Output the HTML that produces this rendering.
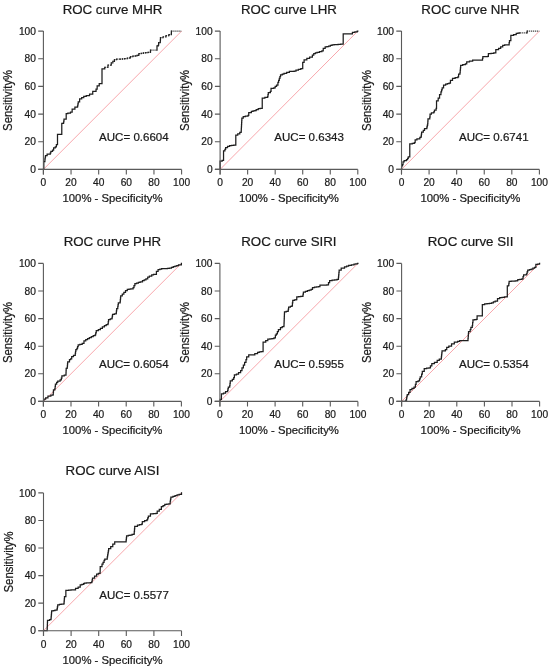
<!DOCTYPE html>
<html><head><meta charset="utf-8"><style>
html,body{margin:0;padding:0;background:#fff;width:550px;height:670px;overflow:hidden}
svg{display:block}
text{font-family:'Liberation Sans', Arial, sans-serif;fill:#1a1a1a;stroke:#1a1a1a;stroke-width:0.22px}
</style></head><body>
<svg width="550" height="670" viewBox="0 0 550 670">
<g><line x1="43.40" y1="169.40" x2="181.60" y2="31.10" stroke="#f79da3" stroke-width="0.9"/><path d="M43.40,169.40 L43.81,169.40 L43.81,161.66 L44.92,161.66 L44.92,158.89 L45.20,158.89 L45.20,157.23 L45.47,157.23 L45.47,155.57 L47.13,155.57 L47.13,154.05 L50.31,154.05 L50.31,152.94 L50.86,152.94 L50.86,151.28 L52.52,151.28 L52.52,150.18 L53.63,150.18 L53.63,147.96 L55.29,147.96 L55.29,146.86 L56.39,146.86 L56.39,144.64 L57.50,144.64 L57.50,144.23 L57.50,134.41 L60.12,134.41 L61.78,134.41 L61.78,133.86 L61.78,123.48 L63.44,123.48 L63.44,122.93 L63.72,122.93 L63.72,121.00 L63.99,121.00 L63.99,119.06 L66.20,119.06 L66.20,117.95 L66.20,113.67 L67.86,113.67 L67.86,113.11 L70.49,113.11 L70.49,112.01 L72.15,112.01 L72.15,109.24 L74.91,109.24 L74.91,107.16 L77.54,107.16 L77.54,105.78 L77.88,105.78 L77.88,103.78 L78.23,103.78 L78.23,101.77 L79.61,101.77 L79.61,98.87 L81.68,98.87 L81.68,97.62 L83.75,97.62 L83.75,96.38 L86.24,96.38 L86.24,95.55 L89.56,95.55 L89.56,94.03 L92.74,94.03 L92.74,91.26 L96.05,91.26 L96.05,89.05 L97.16,89.05 L97.16,85.87 L99.23,85.87 L99.23,83.65 L102.00,83.65 L102.00,81.44 L102.00,68.86 L104.76,68.86 L104.76,67.33 M107.94,67.33 L107.94,65.12 M111.26,65.12 L111.26,62.91 M112.85,62.91 L112.85,61.25 M114.43,61.25 L114.43,59.59 M116.65,59.59 L116.65,59.04 M119.96,59.04 L119.96,59.17 M122.31,59.17 L122.31,58.90 M124.66,58.90 L124.66,58.62 M127.29,58.62 L127.29,58.14 M129.91,58.14 L129.91,57.65 M130.47,57.65 L130.47,56.55 M132.82,56.55 L132.82,56.20 M135.16,56.20 L135.16,55.86 M136.89,55.86 L136.89,55.44 M138.62,55.44 L138.62,55.03 M138.90,55.03 L138.90,53.64 M141.11,53.64 L141.11,53.30 M143.32,53.30 L143.32,52.95 M145.62,52.95 L145.62,52.67 M147.93,52.67 L147.93,52.40 M150.23,52.40 L150.23,52.12 M150.50,52.12 L150.50,50.19 M157.00,50.19 L157.00,45.76 M158.38,45.76 L158.38,45.21 M158.66,45.21 L158.66,42.58 M160.18,42.58 L160.18,42.03 M160.32,42.03 L160.32,39.81 M160.46,39.81 L160.46,37.60 M163.08,37.60 L163.08,36.77 M165.98,36.77 L165.98,35.53 M168.89,35.53 L168.89,34.70 M171.23,34.70 L171.23,34.14 M171.37,34.14 L171.37,31.10" fill="none" stroke="#1e1e1e" stroke-width="1.25" stroke-linejoin="miter" stroke-linecap="square"/><path d="M104.76,67.33 H107.94 M107.94,65.12 H111.26 M111.26,62.91 H112.85 M112.85,61.25 H114.43 M114.43,59.59 H116.65 M116.65,59.04 H119.96 M119.96,59.17 H122.31 M122.31,58.90 H124.66 M124.66,58.62 H127.29 M127.29,58.14 H129.91 M129.91,57.65 H130.47 M130.47,56.55 H132.82 M132.82,56.20 H135.16 M135.16,55.86 H136.89 M136.89,55.44 H138.62 M138.62,55.03 H138.90 M138.90,53.64 H141.11 M141.11,53.30 H143.32 M143.32,52.95 H145.62 M145.62,52.67 H147.93 M147.93,52.40 H150.23 M150.23,52.12 H150.50 M150.50,50.19 H157.00 M157.00,45.76 H158.38 M158.38,45.21 H158.66 M158.66,42.58 H160.18 M160.18,42.03 H160.32 M160.32,39.81 H160.46 M160.46,37.60 H163.08 M163.08,36.77 H165.98 M165.98,35.53 H168.89 M168.89,34.70 H171.23 M171.23,34.14 H171.37 M171.37,31.10 H181.60" fill="none" stroke="#2a2a2a" stroke-width="1.2" stroke-dasharray="1.1 0.9"/><path d="M43.40,31.10 V174.60 M38.20,169.40 H181.60" fill="none" stroke="#5a5a5a" stroke-width="1.1"/><path d="M38.20,169.40 H43.40 M43.40,169.40 V174.60 M38.20,141.74 H43.40 M71.04,169.40 V174.60 M38.20,114.08 H43.40 M98.68,169.40 V174.60 M38.20,86.42 H43.40 M126.32,169.40 V174.60 M38.20,58.76 H43.40 M153.96,169.40 V174.60 M38.20,31.10 H43.40 M181.60,169.40 V174.60" fill="none" stroke="#5a5a5a" stroke-width="1.1"/><text x="35.90" y="173.00" text-anchor="end" font-size="10.2">0</text><text x="43.40" y="186.40" text-anchor="middle" font-size="10.2">0</text><text x="35.90" y="145.34" text-anchor="end" font-size="10.2">20</text><text x="71.04" y="186.40" text-anchor="middle" font-size="10.2">20</text><text x="35.90" y="117.68" text-anchor="end" font-size="10.2">40</text><text x="98.68" y="186.40" text-anchor="middle" font-size="10.2">40</text><text x="35.90" y="90.02" text-anchor="end" font-size="10.2">60</text><text x="126.32" y="186.40" text-anchor="middle" font-size="10.2">60</text><text x="35.90" y="62.36" text-anchor="end" font-size="10.2">80</text><text x="153.96" y="186.40" text-anchor="middle" font-size="10.2">80</text><text x="35.90" y="34.70" text-anchor="end" font-size="10.2">100</text><text x="181.60" y="186.40" text-anchor="middle" font-size="10.2">100</text><text x="112.50" y="13.60" text-anchor="middle" font-size="13.3">ROC curve MHR</text><text x="112.50" y="202.40" text-anchor="middle" font-size="10.8" textLength="100" lengthAdjust="spacingAndGlyphs">100% - Specificity%</text><text transform="translate(12.40,100.40) rotate(-90)" text-anchor="middle" font-size="12" textLength="61" lengthAdjust="spacingAndGlyphs">Sensitivity%</text><text x="99.10" y="140.50" font-size="11" textLength="69.6" lengthAdjust="spacingAndGlyphs">AUC= 0.6604</text></g>
<g><line x1="220.10" y1="169.40" x2="357.80" y2="31.10" stroke="#f79da3" stroke-width="0.9"/><path d="M220.10,169.40 L220.10,161.10 L222.17,161.10 L222.17,160.41 L223.54,160.41 L223.54,159.03 L223.54,150.87 L224.92,150.87 L224.92,149.48 L225.61,149.48 L225.61,147.55 L227.54,147.55 L227.54,146.44 L229.60,146.44 L229.60,145.61 L231.67,145.61 L231.67,145.40 L233.73,145.40 L233.73,145.20 L235.80,145.20 L235.80,144.78 L235.80,135.24 L237.73,135.24 L237.73,133.86 L239.79,133.86 L239.79,132.47 L241.17,132.47 L241.17,131.09 L241.28,131.09 L241.28,128.92 L241.40,128.92 L241.40,126.76 L241.51,126.76 L241.51,124.59 L241.63,124.59 L241.63,122.42 L241.74,122.42 L241.74,120.26 L241.86,120.26 L241.86,118.09 L243.23,118.09 L243.23,116.71 L245.30,116.71 L245.30,116.02 L248.05,116.02 L248.05,115.32 L248.74,115.32 L248.74,112.56 L251.36,112.56 L251.36,111.31 L253.08,111.31 L253.08,110.97 L254.80,110.97 L254.80,110.62 L256.18,110.62 L256.18,109.65 L258.24,109.65 L258.24,108.55 L260.24,108.55 L260.24,108.41 L262.24,108.41 L262.24,108.27 L262.24,98.04 L264.85,98.04 L264.85,97.35 L267.61,97.35 L267.61,96.65 L267.95,96.65 L267.95,94.65 L268.30,94.65 L268.30,92.64 L270.36,92.64 L270.36,91.26 L271.05,91.26 L271.05,88.49 L273.80,88.49 L273.80,87.80 L275.18,87.80 L275.18,86.42 L276.56,86.42 L276.56,85.04 L277.93,85.04 L277.93,82.27 L278.62,82.27 L278.62,80.27 L279.31,80.27 L279.31,78.26 L279.93,78.26 L279.93,76.53 L280.55,76.53 L280.55,74.80 L282.27,74.80 L282.27,74.11 L283.99,74.11 L283.99,73.42 L286.68,73.42 L286.68,72.45 L289.36,72.45 L289.36,71.48 L291.77,71.48 L291.77,71.35 L294.18,71.35 L294.18,71.21 L295.97,71.21 L295.97,70.10 L298.38,70.10 L298.38,69.41 L300.79,69.41 L300.79,68.72 L302.72,68.72 L302.72,67.33 L302.72,62.49 L304.10,62.49 L304.10,59.87 L306.85,59.87 L306.85,58.48 L309.61,58.48 L309.61,57.10 L312.36,57.10 L312.36,55.03 L313.74,55.03 L313.74,53.64 L315.39,53.64 L315.39,52.95 L317.04,52.95 L317.04,52.26 L319.45,52.26 L319.45,51.57 L321.86,51.57 L321.86,50.88 L323.24,50.88 L323.24,48.25 L325.17,48.25 L325.17,46.87 L326.89,46.87 L326.89,46.52 L328.61,46.52 L328.61,46.17 L330.33,46.17 L330.33,45.48 L332.05,45.48 L332.05,44.79 L334.07,44.79 L334.07,44.65 L336.09,44.65 L336.09,44.52 L338.11,44.52 L338.11,44.38 L340.66,44.38 L340.66,44.10 L343.20,44.10 L343.20,43.82 L343.20,33.87 L350.36,33.87 L352.43,33.87 L352.43,32.48 L354.84,32.48 L354.84,31.79 L357.25,31.79 L357.25,31.10 L357.80,31.10" fill="none" stroke="#1e1e1e" stroke-width="1.25" stroke-linejoin="miter" stroke-linecap="square"/><path d="M220.10,31.10 V174.60 M214.90,169.40 H357.80" fill="none" stroke="#5a5a5a" stroke-width="1.1"/><path d="M214.90,169.40 H220.10 M220.10,169.40 V174.60 M214.90,141.74 H220.10 M247.64,169.40 V174.60 M214.90,114.08 H220.10 M275.18,169.40 V174.60 M214.90,86.42 H220.10 M302.72,169.40 V174.60 M214.90,58.76 H220.10 M330.26,169.40 V174.60 M214.90,31.10 H220.10 M357.80,169.40 V174.60" fill="none" stroke="#5a5a5a" stroke-width="1.1"/><text x="212.60" y="173.00" text-anchor="end" font-size="10.2">0</text><text x="220.10" y="186.40" text-anchor="middle" font-size="10.2">0</text><text x="212.60" y="145.34" text-anchor="end" font-size="10.2">20</text><text x="247.64" y="186.40" text-anchor="middle" font-size="10.2">20</text><text x="212.60" y="117.68" text-anchor="end" font-size="10.2">40</text><text x="275.18" y="186.40" text-anchor="middle" font-size="10.2">40</text><text x="212.60" y="90.02" text-anchor="end" font-size="10.2">60</text><text x="302.72" y="186.40" text-anchor="middle" font-size="10.2">60</text><text x="212.60" y="62.36" text-anchor="end" font-size="10.2">80</text><text x="330.26" y="186.40" text-anchor="middle" font-size="10.2">80</text><text x="212.60" y="34.70" text-anchor="end" font-size="10.2">100</text><text x="357.80" y="186.40" text-anchor="middle" font-size="10.2">100</text><text x="288.95" y="13.60" text-anchor="middle" font-size="13.3">ROC curve LHR</text><text x="288.95" y="202.40" text-anchor="middle" font-size="10.8" textLength="100" lengthAdjust="spacingAndGlyphs">100% - Specificity%</text><text transform="translate(189.10,100.40) rotate(-90)" text-anchor="middle" font-size="12" textLength="61" lengthAdjust="spacingAndGlyphs">Sensitivity%</text><text x="274.30" y="140.50" font-size="11" textLength="69.6" lengthAdjust="spacingAndGlyphs">AUC= 0.6343</text></g>
<g><line x1="401.50" y1="169.40" x2="539.40" y2="31.10" stroke="#f79da3" stroke-width="0.9"/><path d="M401.50,169.40 L401.64,169.40 L401.64,165.94 L402.47,165.94 L402.47,164.70 L403.02,164.70 L403.02,161.79 L404.12,161.79 L404.12,160.69 L406.46,160.69 L406.46,159.72 L407.57,159.72 L407.57,158.34 L408.26,158.34 L408.26,156.95 L409.77,156.95 L409.77,156.26 L409.77,143.81 L412.26,143.81 L412.26,143.26 L414.32,143.26 L414.32,142.71 L415.15,142.71 L415.15,139.80 L416.94,139.80 L416.94,138.84 L419.84,138.84 L419.84,137.45 L421.08,137.45 L421.08,136.07 L421.36,136.07 L421.36,134.13 L421.63,134.13 L421.63,132.20 L423.29,132.20 L423.29,130.40 L424.53,130.40 L424.53,128.74 L426.87,128.74 L426.87,126.94 L427.29,126.94 L427.29,125.21 L427.70,125.21 L427.70,123.48 L427.84,123.48 L427.84,121.13 L427.98,121.13 L427.98,118.78 L429.77,118.78 L429.77,117.12 L430.05,117.12 L430.05,114.08 L431.42,114.08 L431.42,112.97 L433.77,112.97 L433.77,111.87 L434.46,111.87 L434.46,110.07 L436.11,110.07 L436.11,108.27 L436.53,108.27 L436.53,107.16 L436.53,100.94 L438.18,100.94 L438.18,98.04 L439.56,98.04 L439.56,94.72 L440.94,94.72 L440.94,91.95 L441.56,91.95 L441.56,89.88 L442.18,89.88 L442.18,87.80 L443.56,87.80 L443.56,85.04 L445.63,85.04 L445.63,84.07 L447.35,84.07 L447.35,83.58 L449.08,83.58 L449.08,83.10 L450.45,83.10 L450.45,80.33 L452.52,80.33 L452.52,78.26 L455.14,78.26 L455.14,77.57 L457.90,77.57 L457.90,76.88 L458.59,76.88 L458.59,74.11 L459.97,74.11 L459.97,72.73 L460.20,72.73 L460.20,70.24 L460.43,70.24 L460.43,67.75 L460.66,67.75 L460.66,65.26 L462.73,65.26 L462.73,64.57 L465.35,64.57 L465.35,63.88 L466.73,63.88 L466.73,61.80 L469.48,61.80 L469.48,61.11 L472.66,61.11 L472.66,60.14 L482.17,60.14 L482.52,60.14 L482.52,58.41 L482.86,58.41 L482.86,56.69 L485.27,56.69 L485.27,56.55 L487.69,56.55 L487.69,56.41 L488.38,56.41 L488.38,53.64 L491.07,53.64 L491.07,53.30 L493.76,53.30 L493.76,52.95 L495.82,52.95 L495.82,49.63 L498.58,49.63 L498.58,48.25 L500.65,48.25 L500.65,46.87 L502.72,46.87 L502.72,45.48 L504.65,45.48 L504.65,44.79 L508.79,44.79 L509.13,44.79 L509.13,42.72 L509.48,42.72 L509.48,40.64 L510.85,40.64 L510.85,38.57 L510.85,35.25 L513.61,35.25 L513.61,34.56 L516.23,34.56 L516.23,33.45 L517.96,33.45 L517.96,33.17 M519.68,33.17 L519.68,32.90 M527.13,32.90 L527.13,31.10" fill="none" stroke="#1e1e1e" stroke-width="1.25" stroke-linejoin="miter" stroke-linecap="square"/><path d="M517.96,33.17 H519.68 M519.68,32.90 H525.89 M525.89,32.90 H527.13 M527.13,31.10 H539.40" fill="none" stroke="#2a2a2a" stroke-width="1.2" stroke-dasharray="1.1 0.9"/><path d="M401.50,31.10 V174.60 M396.30,169.40 H539.40" fill="none" stroke="#5a5a5a" stroke-width="1.1"/><path d="M396.30,169.40 H401.50 M401.50,169.40 V174.60 M396.30,141.74 H401.50 M429.08,169.40 V174.60 M396.30,114.08 H401.50 M456.66,169.40 V174.60 M396.30,86.42 H401.50 M484.24,169.40 V174.60 M396.30,58.76 H401.50 M511.82,169.40 V174.60 M396.30,31.10 H401.50 M539.40,169.40 V174.60" fill="none" stroke="#5a5a5a" stroke-width="1.1"/><text x="394.00" y="173.00" text-anchor="end" font-size="10.2">0</text><text x="401.50" y="186.40" text-anchor="middle" font-size="10.2">0</text><text x="394.00" y="145.34" text-anchor="end" font-size="10.2">20</text><text x="429.08" y="186.40" text-anchor="middle" font-size="10.2">20</text><text x="394.00" y="117.68" text-anchor="end" font-size="10.2">40</text><text x="456.66" y="186.40" text-anchor="middle" font-size="10.2">40</text><text x="394.00" y="90.02" text-anchor="end" font-size="10.2">60</text><text x="484.24" y="186.40" text-anchor="middle" font-size="10.2">60</text><text x="394.00" y="62.36" text-anchor="end" font-size="10.2">80</text><text x="511.82" y="186.40" text-anchor="middle" font-size="10.2">80</text><text x="394.00" y="34.70" text-anchor="end" font-size="10.2">100</text><text x="539.40" y="186.40" text-anchor="middle" font-size="10.2">100</text><text x="470.45" y="13.60" text-anchor="middle" font-size="13.3">ROC curve NHR</text><text x="470.45" y="202.40" text-anchor="middle" font-size="10.8" textLength="100" lengthAdjust="spacingAndGlyphs">100% - Specificity%</text><text transform="translate(370.50,100.40) rotate(-90)" text-anchor="middle" font-size="12" textLength="61" lengthAdjust="spacingAndGlyphs">Sensitivity%</text><text x="459.00" y="140.50" font-size="11" textLength="69.6" lengthAdjust="spacingAndGlyphs">AUC= 0.6741</text></g>
<g><line x1="43.40" y1="401.40" x2="181.40" y2="263.40" stroke="#f79da3" stroke-width="0.9"/><path d="M43.40,401.40 L43.81,401.40 L43.81,399.05 L45.61,399.05 L45.61,397.95 L47.95,397.95 L47.95,396.16 L50.85,396.16 L50.85,395.05 L53.06,395.05 L53.06,394.50 L53.27,394.50 L53.27,392.15 L53.47,392.15 L53.47,389.81 L54.85,389.81 L54.85,388.57 L55.13,388.57 L55.13,386.29 L55.41,386.29 L55.41,384.01 L56.65,384.01 L56.65,382.49 L57.75,382.49 L57.75,381.11 L60.10,381.11 L60.10,379.87 L61.34,379.87 L61.34,378.08 L61.89,378.08 L61.89,375.87 L64.24,375.87 L64.24,375.18 L65.89,375.18 L65.89,375.04 L65.99,375.04 L65.99,372.79 L66.08,372.79 L66.08,370.53 L66.17,370.53 L66.17,368.28 L67.14,368.28 L67.14,367.73 L67.32,367.73 L67.32,365.75 L67.50,365.75 L67.50,363.77 L67.69,363.77 L67.69,361.79 L69.48,361.79 L69.48,359.59 L70.59,359.59 L70.59,358.90 L71.69,358.90 L71.69,356.55 L73.48,356.55 L73.48,355.45 L75.28,355.45 L75.28,353.10 L75.55,353.10 L75.55,351.38 L75.83,351.38 L75.83,349.65 L76.93,349.65 L76.93,348.41 L77.56,348.41 L77.56,346.68 L78.18,346.68 L78.18,344.96 L79.83,344.96 L79.83,344.41 L82.18,344.41 L82.18,343.30 L83.97,343.30 L83.97,340.96 L85.77,340.96 L85.77,339.71 L87.56,339.71 L87.56,338.68 L89.35,338.68 L89.35,337.64 L91.29,337.64 L91.29,336.68 L93.22,336.68 L93.22,335.71 L95.15,335.71 L95.15,334.75 L95.70,334.75 L95.70,332.75 L96.25,332.75 L96.25,330.74 L98.32,330.74 L98.32,329.57 L100.39,329.57 L100.39,328.40 L102.39,328.40 L102.39,326.95 L104.40,326.95 L104.40,325.50 L106.19,325.50 L106.19,324.60 L107.98,324.60 L107.98,323.71 L108.26,323.71 L108.26,321.70 L108.54,321.70 L108.54,319.70 L110.26,319.70 L110.26,318.81 L111.99,318.81 L111.99,317.91 L112.26,317.91 L112.26,316.18 L112.54,316.18 L112.54,314.46 L114.33,314.46 L114.33,313.84 L116.13,313.84 L116.13,313.22 L116.40,313.22 L116.40,310.94 L116.68,310.94 L116.68,308.66 L117.78,308.66 L117.78,306.32 L118.06,306.32 L118.06,304.59 L118.33,304.59 L118.33,302.87 L120.13,302.87 L120.13,301.63 L120.31,301.63 L120.31,299.69 L120.50,299.69 L120.50,297.76 L120.68,297.76 L120.68,295.83 L122.27,295.83 L122.27,294.10 L123.85,294.10 L123.85,292.38 L125.51,292.38 L125.51,290.59 L127.30,290.59 L127.30,289.48 L129.03,289.48 L129.03,289.14 L130.75,289.14 L130.75,288.79 L133.10,288.79 L133.10,287.69 L134.00,287.69 L134.00,285.62 L134.89,285.62 L134.89,283.55 L136.55,283.55 L136.55,283.00 L138.34,283.00 L138.34,282.44 L140.14,282.44 L140.14,281.89 L142.48,281.89 L142.48,280.65 L144.21,280.65 L144.21,279.82 L145.93,279.82 L145.93,278.99 L147.73,278.99 L147.73,277.20 L149.38,277.20 L149.38,276.10 L151.73,276.10 L151.73,274.85 L153.52,274.85 L153.52,274.30 L156.42,274.30 L156.42,271.40 L158.08,271.40 L158.08,269.61 L159.87,269.61 L159.87,269.13 L161.67,269.13 L161.67,268.64 L165.67,268.64 L167.46,268.64 L167.46,268.44 L169.26,268.44 L169.26,268.23 L171.46,268.23 L171.46,267.26 L173.26,267.26 L173.26,266.71 L175.05,266.71 L175.05,266.16 L176.78,266.16 L176.78,265.54 L178.50,265.54 L178.50,264.92 L181.40,264.92 L181.40,263.40" fill="none" stroke="#1e1e1e" stroke-width="1.25" stroke-linejoin="miter" stroke-linecap="square"/><path d="M43.40,263.40 V406.60 M38.20,401.40 H181.40" fill="none" stroke="#5a5a5a" stroke-width="1.1"/><path d="M38.20,401.40 H43.40 M43.40,401.40 V406.60 M38.20,373.80 H43.40 M71.00,401.40 V406.60 M38.20,346.20 H43.40 M98.60,401.40 V406.60 M38.20,318.60 H43.40 M126.20,401.40 V406.60 M38.20,291.00 H43.40 M153.80,401.40 V406.60 M38.20,263.40 H43.40 M181.40,401.40 V406.60" fill="none" stroke="#5a5a5a" stroke-width="1.1"/><text x="35.90" y="405.00" text-anchor="end" font-size="10.2">0</text><text x="43.40" y="418.40" text-anchor="middle" font-size="10.2">0</text><text x="35.90" y="377.40" text-anchor="end" font-size="10.2">20</text><text x="71.00" y="418.40" text-anchor="middle" font-size="10.2">20</text><text x="35.90" y="349.80" text-anchor="end" font-size="10.2">40</text><text x="98.60" y="418.40" text-anchor="middle" font-size="10.2">40</text><text x="35.90" y="322.20" text-anchor="end" font-size="10.2">60</text><text x="126.20" y="418.40" text-anchor="middle" font-size="10.2">60</text><text x="35.90" y="294.60" text-anchor="end" font-size="10.2">80</text><text x="153.80" y="418.40" text-anchor="middle" font-size="10.2">80</text><text x="35.90" y="267.00" text-anchor="end" font-size="10.2">100</text><text x="181.40" y="418.40" text-anchor="middle" font-size="10.2">100</text><text x="112.40" y="245.90" text-anchor="middle" font-size="13.3">ROC curve PHR</text><text x="112.40" y="434.40" text-anchor="middle" font-size="10.8" textLength="100" lengthAdjust="spacingAndGlyphs">100% - Specificity%</text><text transform="translate(12.40,332.55) rotate(-90)" text-anchor="middle" font-size="12" textLength="61" lengthAdjust="spacingAndGlyphs">Sensitivity%</text><text x="99.00" y="367.60" font-size="11" textLength="69.6" lengthAdjust="spacingAndGlyphs">AUC= 0.6054</text></g>
<g><line x1="219.90" y1="401.40" x2="357.90" y2="263.40" stroke="#f79da3" stroke-width="0.9"/><path d="M219.90,401.40 L220.18,401.40 L220.18,399.33 L221.42,399.33 L221.42,397.95 L221.42,393.81 L223.49,393.81 L223.49,393.12 L225.56,393.12 L225.56,391.74 L227.63,391.74 L227.63,390.36 L227.97,390.36 L227.97,388.70 L228.32,388.70 L228.32,387.05 L229.70,387.05 L229.70,385.67 L229.97,385.67 L229.97,383.25 L230.25,383.25 L230.25,380.84 L232.32,380.84 L232.32,379.46 L233.70,379.46 L233.70,377.53 L234.39,377.53 L234.39,374.77 L236.46,374.77 L236.46,374.08 L238.53,374.08 L238.53,372.70 L240.60,372.70 L240.60,370.63 L241.98,370.63 L241.98,367.87 L243.36,367.87 L243.36,365.24 L244.60,365.24 L244.60,362.48 L245.98,362.48 L245.98,359.72 L246.67,359.72 L246.67,356.96 L248.74,356.96 L248.74,354.89 L252.88,354.89 L254.81,354.89 L254.81,353.65 L257.57,353.65 L257.57,352.27 L259.30,352.27 L259.30,351.93 L261.02,351.93 L261.02,351.58 L263.09,351.58 L263.09,350.20 L263.09,342.06 L265.72,342.06 L265.72,340.68 L267.79,340.68 L267.79,339.02 L269.86,339.02 L269.86,338.82 L271.93,338.82 L271.93,338.61 L274.00,338.61 L274.00,337.92 L275.38,337.92 L275.38,335.16 L276.34,335.16 L276.34,333.78 L277.38,333.78 L277.38,331.64 L278.41,331.64 L278.41,329.50 L280.48,329.50 L280.48,327.57 L282.21,327.57 L282.21,326.53 L283.93,326.53 L283.93,325.50 L284.02,325.50 L284.02,323.22 L284.12,323.22 L284.12,320.95 L284.21,320.95 L284.21,318.67 L284.30,318.67 L284.30,316.39 L284.39,316.39 L284.39,314.11 L284.48,314.11 L284.48,311.84 L286.21,311.84 L286.21,311.49 L287.93,311.49 L287.93,311.15 L288.28,311.15 L288.28,309.08 L288.62,309.08 L288.62,307.01 L290.35,307.01 L290.35,306.32 L292.07,306.32 L292.07,305.63 L292.42,305.63 L292.42,302.94 L292.76,302.94 L292.76,300.25 L294.42,300.25 L294.42,299.90 L296.08,299.90 L296.08,299.56 L296.77,299.56 L296.77,296.80 L298.74,296.80 L298.74,296.57 L300.72,296.57 L300.72,296.34 L302.70,296.34 L302.70,296.11 L303.04,296.11 L303.04,294.10 L303.39,294.10 L303.39,292.10 L305.39,292.10 L305.39,291.41 L307.39,291.41 L307.39,290.72 L309.25,290.72 L309.25,290.03 L311.12,290.03 L311.12,289.34 L312.50,289.34 L312.50,287.55 L314.52,287.55 L314.52,287.23 L316.55,287.23 L316.55,286.91 L318.57,286.91 L318.57,286.58 L319.95,286.58 L319.95,285.20 L322.25,285.20 L322.25,285.11 L324.55,285.11 L324.55,285.02 L326.85,285.02 L326.85,284.93 L328.51,284.93 L328.51,282.72 L329.61,282.72 L329.61,280.51 L332.09,280.51 L332.09,280.14 L334.58,280.14 L334.58,279.78 L337.06,279.78 L337.06,279.41 L338.44,279.41 L338.44,277.06 L338.67,277.06 L338.67,274.76 L338.90,274.76 L338.90,272.46 L339.13,272.46 L339.13,270.16 L341.20,270.16 L341.20,268.23 L344.51,268.23 L344.51,266.85 L346.58,266.85 L346.58,266.16 L348.65,266.16 L348.65,265.47 L351.34,265.47 L351.34,264.78 L354.04,264.78 L354.04,264.09 L355.76,264.09 L355.76,263.75 L357.49,263.75 L357.49,263.40 L357.90,263.40" fill="none" stroke="#1e1e1e" stroke-width="1.25" stroke-linejoin="miter" stroke-linecap="square"/><path d="M219.90,263.40 V406.60 M214.70,401.40 H357.90" fill="none" stroke="#5a5a5a" stroke-width="1.1"/><path d="M214.70,401.40 H219.90 M219.90,401.40 V406.60 M214.70,373.80 H219.90 M247.50,401.40 V406.60 M214.70,346.20 H219.90 M275.10,401.40 V406.60 M214.70,318.60 H219.90 M302.70,401.40 V406.60 M214.70,291.00 H219.90 M330.30,401.40 V406.60 M214.70,263.40 H219.90 M357.90,401.40 V406.60" fill="none" stroke="#5a5a5a" stroke-width="1.1"/><text x="212.40" y="405.00" text-anchor="end" font-size="10.2">0</text><text x="219.90" y="418.40" text-anchor="middle" font-size="10.2">0</text><text x="212.40" y="377.40" text-anchor="end" font-size="10.2">20</text><text x="247.50" y="418.40" text-anchor="middle" font-size="10.2">20</text><text x="212.40" y="349.80" text-anchor="end" font-size="10.2">40</text><text x="275.10" y="418.40" text-anchor="middle" font-size="10.2">40</text><text x="212.40" y="322.20" text-anchor="end" font-size="10.2">60</text><text x="302.70" y="418.40" text-anchor="middle" font-size="10.2">60</text><text x="212.40" y="294.60" text-anchor="end" font-size="10.2">80</text><text x="330.30" y="418.40" text-anchor="middle" font-size="10.2">80</text><text x="212.40" y="267.00" text-anchor="end" font-size="10.2">100</text><text x="357.90" y="418.40" text-anchor="middle" font-size="10.2">100</text><text x="288.90" y="245.90" text-anchor="middle" font-size="13.3">ROC curve SIRI</text><text x="288.90" y="434.40" text-anchor="middle" font-size="10.8" textLength="100" lengthAdjust="spacingAndGlyphs">100% - Specificity%</text><text transform="translate(188.90,332.55) rotate(-90)" text-anchor="middle" font-size="12" textLength="61" lengthAdjust="spacingAndGlyphs">Sensitivity%</text><text x="274.30" y="367.50" font-size="11" textLength="69.6" lengthAdjust="spacingAndGlyphs">AUC= 0.5955</text></g>
<g><line x1="401.60" y1="401.40" x2="539.60" y2="263.40" stroke="#f79da3" stroke-width="0.9"/><path d="M401.60,401.40 L404.50,401.40 L405.88,401.40 L405.88,400.02 L406.57,400.02 L406.57,397.95 L406.91,397.95 L406.91,396.22 L407.26,396.22 L407.26,394.50 L408.64,394.50 L408.64,392.43 L410.02,392.43 L410.02,389.67 L411.95,389.67 L411.95,388.43 L414.02,388.43 L414.02,387.05 L415.40,387.05 L415.40,384.29 L416.09,384.29 L416.09,381.53 L418.16,381.53 L418.16,380.84 L419.54,380.84 L419.54,378.77 L420.23,378.77 L420.23,376.84 L421.61,376.84 L421.61,374.08 L422.30,374.08 L422.30,371.32 L424.23,371.32 L424.23,368.56 L426.65,368.56 L426.65,368.21 L429.06,368.21 L429.06,367.87 L430.44,367.87 L430.44,365.93 L431.82,365.93 L431.82,363.59 L434.44,363.59 L434.44,362.48 L437.20,362.48 L437.20,360.41 L439.27,360.41 L439.27,359.03 L441.34,359.03 L441.34,356.96 L441.57,356.96 L441.57,354.94 L441.80,354.94 L441.80,352.92 L442.03,352.92 L442.03,350.89 L445.35,350.89 L445.35,349.51 L446.73,349.51 L446.73,347.44 L448.80,347.44 L448.80,346.06 L451.56,346.06 L451.56,343.99 L454.32,343.99 L454.32,342.06 L457.63,342.06 L457.63,341.37 L459.70,341.37 L459.70,340.68 L467.84,340.68 L468.01,340.68 L468.01,338.44 L468.19,338.44 L468.19,336.19 L468.36,336.19 L468.36,333.95 L468.53,333.95 L468.53,331.71 L470.19,331.71 L470.19,329.50 L470.88,329.50 L470.88,327.43 L472.26,327.43 L472.26,325.50 L472.60,325.50 L472.60,322.74 L472.95,322.74 L472.95,319.98 L474.67,319.98 L474.67,319.63 L476.40,319.63 L476.40,319.29 L477.09,319.29 L477.09,315.98 L479.71,315.98 L479.71,315.77 L482.33,315.77 L482.33,315.56 L482.33,304.52 L484.68,304.52 L484.68,303.97 L487.02,303.97 L487.02,303.70 L489.37,303.70 L489.37,303.42 L491.58,303.42 L491.58,302.87 L493.37,302.87 L493.37,301.97 L495.16,301.97 L495.16,301.07 L497.51,301.07 L497.51,298.73 L499.72,298.73 L499.72,297.62 L502.06,297.62 L502.06,297.28 L504.41,297.28 L504.41,296.93 L507.31,296.93 L507.31,295.83 L507.31,285.89 L508.55,285.89 L508.55,285.34 L508.83,285.34 L508.83,283.34 L509.10,283.34 L509.10,281.34 L511.14,281.34 L511.14,281.17 L513.17,281.17 L513.17,281.00 L515.21,281.00 L515.21,280.82 L517.24,280.82 L517.24,280.65 L517.80,280.65 L517.80,279.55 L519.87,279.55 L519.87,279.27 L521.94,279.27 L521.94,278.99 L523.04,278.99 L523.04,276.65 L523.59,276.65 L523.59,274.85 L526.49,274.85 L526.49,273.75 L527.11,273.75 L527.11,271.96 L527.73,271.96 L527.73,270.16 L529.46,270.16 L529.46,269.61 L531.18,269.61 L531.18,269.06 L532.91,269.06 L532.91,268.16 L534.63,268.16 L534.63,267.26 L535.87,267.26 L535.87,264.37 L537.60,264.37 L537.60,264.09 L539.32,264.09 L539.32,263.81 L539.60,263.81 L539.60,263.40" fill="none" stroke="#1e1e1e" stroke-width="1.25" stroke-linejoin="miter" stroke-linecap="square"/><path d="M401.60,263.40 V406.60 M396.40,401.40 H539.60" fill="none" stroke="#5a5a5a" stroke-width="1.1"/><path d="M396.40,401.40 H401.60 M401.60,401.40 V406.60 M396.40,373.80 H401.60 M429.20,401.40 V406.60 M396.40,346.20 H401.60 M456.80,401.40 V406.60 M396.40,318.60 H401.60 M484.40,401.40 V406.60 M396.40,291.00 H401.60 M512.00,401.40 V406.60 M396.40,263.40 H401.60 M539.60,401.40 V406.60" fill="none" stroke="#5a5a5a" stroke-width="1.1"/><text x="394.10" y="405.00" text-anchor="end" font-size="10.2">0</text><text x="401.60" y="418.40" text-anchor="middle" font-size="10.2">0</text><text x="394.10" y="377.40" text-anchor="end" font-size="10.2">20</text><text x="429.20" y="418.40" text-anchor="middle" font-size="10.2">20</text><text x="394.10" y="349.80" text-anchor="end" font-size="10.2">40</text><text x="456.80" y="418.40" text-anchor="middle" font-size="10.2">40</text><text x="394.10" y="322.20" text-anchor="end" font-size="10.2">60</text><text x="484.40" y="418.40" text-anchor="middle" font-size="10.2">60</text><text x="394.10" y="294.60" text-anchor="end" font-size="10.2">80</text><text x="512.00" y="418.40" text-anchor="middle" font-size="10.2">80</text><text x="394.10" y="267.00" text-anchor="end" font-size="10.2">100</text><text x="539.60" y="418.40" text-anchor="middle" font-size="10.2">100</text><text x="470.60" y="245.90" text-anchor="middle" font-size="13.3">ROC curve SII</text><text x="470.60" y="434.40" text-anchor="middle" font-size="10.8" textLength="100" lengthAdjust="spacingAndGlyphs">100% - Specificity%</text><text transform="translate(370.60,332.55) rotate(-90)" text-anchor="middle" font-size="12" textLength="61" lengthAdjust="spacingAndGlyphs">Sensitivity%</text><text x="459.00" y="367.50" font-size="11" textLength="69.6" lengthAdjust="spacingAndGlyphs">AUC= 0.5354</text></g>
<g><line x1="43.50" y1="630.70" x2="181.50" y2="492.90" stroke="#f79da3" stroke-width="0.9"/><path d="M43.50,630.70 L47.09,630.70 L47.17,630.70 L47.17,628.63 L47.25,628.63 L47.25,626.57 L47.34,626.57 L47.34,624.50 L47.42,624.50 L47.42,622.43 L47.50,622.43 L47.50,620.37 L49.57,620.37 L49.57,619.68 L50.95,619.68 L50.95,618.99 L51.12,618.99 L51.12,616.95 L51.30,616.95 L51.30,614.92 L51.47,614.92 L51.47,612.89 L51.64,612.89 L51.64,610.86 L53.30,610.86 L53.30,610.51 L54.95,610.51 L54.95,610.17 L57.02,610.17 L57.02,608.79 L57.37,608.79 L57.37,606.79 L57.71,606.79 L57.71,604.79 L59.44,604.79 L59.44,604.45 L61.16,604.45 L61.16,604.10 L63.92,604.10 L63.92,603.42 L64.11,603.42 L64.11,601.12 L64.29,601.12 L64.29,598.82 L64.48,598.82 L64.48,596.53 L65.86,596.53 L65.86,595.29 L65.86,590.46 L68.62,590.46 L68.62,590.19 L71.03,590.19 L71.03,589.98 L73.45,589.98 L73.45,589.77 L75.52,589.77 L75.52,588.40 L78.14,588.40 L78.14,587.02 L80.21,587.02 L80.21,584.95 L81.93,584.95 L81.93,584.26 L83.66,584.26 L83.66,583.57 L84.35,583.57 L84.35,583.02 L86.37,583.02 L86.37,582.88 L88.40,582.88 L88.40,582.75 L90.42,582.75 L90.42,582.61 L91.80,582.61 L91.80,581.64 L92.14,581.64 L92.14,579.92 L92.49,579.92 L92.49,578.20 L94.56,578.20 L94.56,576.13 L96.63,576.13 L96.63,574.06 L98.36,574.06 L98.36,573.44 L100.08,573.44 L100.08,572.82 L100.13,572.82 L100.13,570.76 L100.17,570.76 L100.17,568.69 L100.22,568.69 L100.22,566.62 L102.01,566.62 L102.01,564.14 L103.05,564.14 L103.05,562.28 L104.08,562.28 L104.08,560.42 L104.77,560.42 L104.77,559.04 L107.26,559.04 L107.26,556.98 L107.60,556.98 L107.60,554.91 L107.95,554.91 L107.95,552.84 L108.29,552.84 L108.29,550.78 L108.64,550.78 L108.64,548.71 L110.71,548.71 L110.71,546.64 L112.78,546.64 L112.78,544.02 L114.71,544.02 L114.71,541.96 L125.89,541.96 L126.12,541.96 L126.12,539.89 L126.35,539.89 L126.35,537.82 L126.58,537.82 L126.58,535.76 L128.30,535.76 L128.30,535.41 L130.03,535.41 L130.03,535.07 L132.03,535.07 L132.03,534.45 L134.03,534.45 L134.03,533.83 L134.26,533.83 L134.26,531.30 L134.49,531.30 L134.49,528.77 L134.72,528.77 L134.72,526.25 L137.48,526.25 L137.48,525.15 L139.55,525.15 L139.55,524.66 L141.62,524.66 L141.62,524.18 L142.31,524.18 L142.31,521.56 L144.65,521.56 L144.65,520.53 L147.00,520.53 L147.00,519.50 L147.69,519.50 L147.69,517.77 L148.38,517.77 L148.38,516.05 L150.45,516.05 L150.45,513.98 L153.21,513.98 L153.21,513.64 L155.97,513.64 L155.97,513.29 L157.21,513.29 L157.21,511.23 L159.28,511.23 L159.28,509.30 L161.35,509.30 L161.35,506.54 L163.08,506.54 L163.08,505.51 L164.80,505.51 L164.80,504.48 L166.80,504.48 L166.80,504.13 L168.80,504.13 L168.80,503.79 L170.18,503.79 L170.18,501.03 L170.53,501.03 L170.53,499.03 L170.87,499.03 L170.87,497.03 L172.94,497.03 L172.94,496.34 L175.01,496.34 L175.01,495.66 L177.08,495.66 L177.08,494.97 L179.15,494.97 L179.15,494.28 L181.50,494.28 L181.50,492.90" fill="none" stroke="#1e1e1e" stroke-width="1.25" stroke-linejoin="miter" stroke-linecap="square"/><path d="M43.50,492.90 V635.90 M38.30,630.70 H181.50" fill="none" stroke="#5a5a5a" stroke-width="1.1"/><path d="M38.30,630.70 H43.50 M43.50,630.70 V635.90 M38.30,603.14 H43.50 M71.10,630.70 V635.90 M38.30,575.58 H43.50 M98.70,630.70 V635.90 M38.30,548.02 H43.50 M126.30,630.70 V635.90 M38.30,520.46 H43.50 M153.90,630.70 V635.90 M38.30,492.90 H43.50 M181.50,630.70 V635.90" fill="none" stroke="#5a5a5a" stroke-width="1.1"/><text x="36.00" y="634.30" text-anchor="end" font-size="10.2">0</text><text x="43.50" y="647.90" text-anchor="middle" font-size="10.2">0</text><text x="36.00" y="606.74" text-anchor="end" font-size="10.2">20</text><text x="71.10" y="647.90" text-anchor="middle" font-size="10.2">20</text><text x="36.00" y="579.18" text-anchor="end" font-size="10.2">40</text><text x="98.70" y="647.90" text-anchor="middle" font-size="10.2">40</text><text x="36.00" y="551.62" text-anchor="end" font-size="10.2">60</text><text x="126.30" y="647.90" text-anchor="middle" font-size="10.2">60</text><text x="36.00" y="524.06" text-anchor="end" font-size="10.2">80</text><text x="153.90" y="647.90" text-anchor="middle" font-size="10.2">80</text><text x="36.00" y="496.50" text-anchor="end" font-size="10.2">100</text><text x="181.50" y="647.90" text-anchor="middle" font-size="10.2">100</text><text x="112.50" y="475.40" text-anchor="middle" font-size="13.3">ROC curve AISI</text><text x="112.50" y="663.90" text-anchor="middle" font-size="10.8" textLength="100" lengthAdjust="spacingAndGlyphs">100% - Specificity%</text><text transform="translate(12.50,561.95) rotate(-90)" text-anchor="middle" font-size="12" textLength="61" lengthAdjust="spacingAndGlyphs">Sensitivity%</text><text x="99.30" y="599.30" font-size="11" textLength="69.6" lengthAdjust="spacingAndGlyphs">AUC= 0.5577</text></g>
</svg>
</body></html>
